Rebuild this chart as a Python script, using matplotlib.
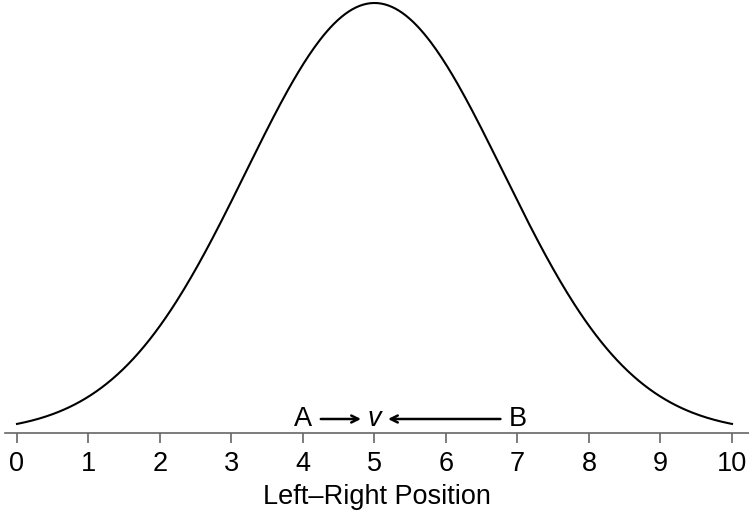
import numpy as np
import matplotlib
matplotlib.use("Agg")
import matplotlib.pyplot as plt

# normal curve of voter positions
mean_pos = 5.0
sd_pos = 1.8
x_ticks = [0, 1, 2, 3, 4, 5, 6, 7, 8, 9, 10]

# candidate positions and the median voter
cand_labels = ["A", "B"]
cand_pos = [4.0, 7.0]
voter_label = "v"
voter_pos = 5.0

plt.rcParams['font.family'] = ['Liberation Sans', 'DejaVu Sans']

xs = np.linspace(0, 10, 400)
dens = np.exp(-(xs - mean_pos) ** 2 / (2 * sd_pos ** 2)) / (sd_pos * np.sqrt(2 * np.pi))
peak = dens.max()

fig = plt.figure(figsize=(7.49, 5.14), dpi=100)
ax = fig.add_axes([5 / 749, (514 - 433) / 514, 744 / 749, 433 / 514])
ax.plot(xs, dens, color="black", lw=1.5)

ax.set_xlim(-12 / 71.5, 10 + 17 / 71.5)
ax.set_ylim(0, peak * 433 / 430)

for s in ["left", "top", "right"]:
    ax.spines[s].set_visible(False)
ax.spines["bottom"].set_color("#666666")
ax.spines["bottom"].set_linewidth(1.2)
ax.set_yticks([])
ax.set_xticks(x_ticks)
ax.tick_params(axis="x", length=7, width=1.2, color="#666666", pad=6, labelsize=19.5)
ax.set_xlabel("Left\u2013Right Position", fontsize=19.5, labelpad=5)

# labels and arrows above the axis
y_txt = peak * 14 / 430
for lab, p in zip(cand_labels, cand_pos):
    ax.text(p, y_txt, lab, ha="center", va="center", fontsize=19.5)
ax.text(voter_pos, y_txt, voter_label, ha="center", va="center", fontsize=19.5, style="italic")
arr = dict(arrowstyle="->,head_length=0.5,head_width=0.25", color="black", lw=1.8)
ax.annotate("", xy=(voter_pos - 0.15, y_txt), xytext=(cand_pos[0] + 0.21, y_txt), arrowprops=arr)
ax.annotate("", xy=(voter_pos + 0.15, y_txt), xytext=(cand_pos[1] - 0.20, y_txt), arrowprops=arr)

fig.savefig("out.png", dpi=100)
